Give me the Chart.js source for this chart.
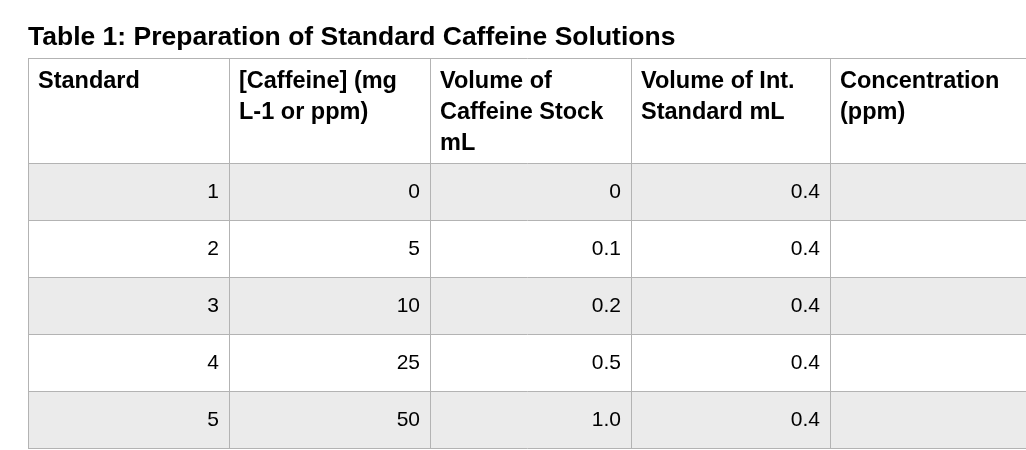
<!DOCTYPE html>
<html><head><meta charset="utf-8">
<script src="https://cdn.jsdelivr.net/npm/chart.js@4"></script>
<style>html,body{margin:0;padding:0;background:#fff}#c{display:block}</style>
</head><body>
<div style="width:1026px;height:450px"><canvas id="c"></canvas></div>
<script>
const title = "Table 1: Preparation of Standard Caffeine Solutions";
const headers = [["Standard"],["[Caffeine] (mg","L-1 or ppm)"],["Volume of","Caffeine Stock","mL"],["Volume of Int.","Standard mL"],["Concentration","(ppm)"]];
const standards = ["1","2","3","4","5"];
const caffeine = ["0","5","10","25","50"];
const stockVol = ["0","0.1","0.2","0.5","1.0"];
const intStdVol = ["0.4","0.4","0.4","0.4","0.4"];
const concentration = ["","","","",""];

const colX = [28,229,430,631,830,1030];
const top0 = 58, headH = 105, rowH = 57;
const tablePlugin = {
  id:'table',
  afterDraw(chart){
    const ctx = chart.ctx;
    ctx.save();
    ctx.fillStyle='#000';
    ctx.font='bold 26.5px "Liberation Sans", Arial, sans-serif';
    ctx.textBaseline='alphabetic';
    ctx.fillText(title, 28, 45);
    const cols=[standards,caffeine,stockVol,intStdVol,concentration];
    for(let r=0;r<standards.length;r++){
      const y=top0+headH+r*rowH;
      ctx.fillStyle = r%2===0 ? '#ebebeb' : '#ffffff';
      ctx.fillRect(colX[0],y,colX[5]-colX[0],rowH);
    }
    ctx.strokeStyle='#b3b3b3'; ctx.lineWidth=1;
    const bottom=top0+headH+standards.length*rowH;
    for(const x of colX){ctx.beginPath();ctx.moveTo(x+0.5,top0);ctx.lineTo(x+0.5,bottom);ctx.stroke();}
    const ys=[top0,top0+headH];
    for(let r=1;r<=standards.length;r++) ys.push(top0+headH+r*rowH);
    for(const y of ys){ctx.beginPath();ctx.moveTo(colX[0],y+0.5);ctx.lineTo(colX[5],y+0.5);ctx.stroke();}
    ctx.fillStyle='#000';
    ctx.font='bold 23.5px "Liberation Sans", Arial, sans-serif';
    ctx.textAlign='left';
    headers.forEach((h,i)=>h.forEach((line,j)=>ctx.fillText(line,colX[i]+10,top0+30+j*31)));
    ctx.font='21px "Liberation Sans", Arial, sans-serif';
    ctx.textAlign='right'; ctx.textBaseline='middle';
    cols.forEach((col,i)=>col.forEach((v,r)=>{
      if(v!=='') ctx.fillText(v,colX[i+1]-10,top0+headH+r*rowH+rowH/2+1);
    }));
    ctx.restore();
  }
};
new Chart(document.getElementById('c'),{
  type:'bar',
  data:{labels:standards,datasets:[]},
  options:{responsive:true,maintainAspectRatio:false,animation:false,
    plugins:{legend:{display:false},tooltip:{enabled:false}},
    scales:{x:{display:false},y:{display:false}}},
  plugins:[tablePlugin]
});
</script>
</body></html>
